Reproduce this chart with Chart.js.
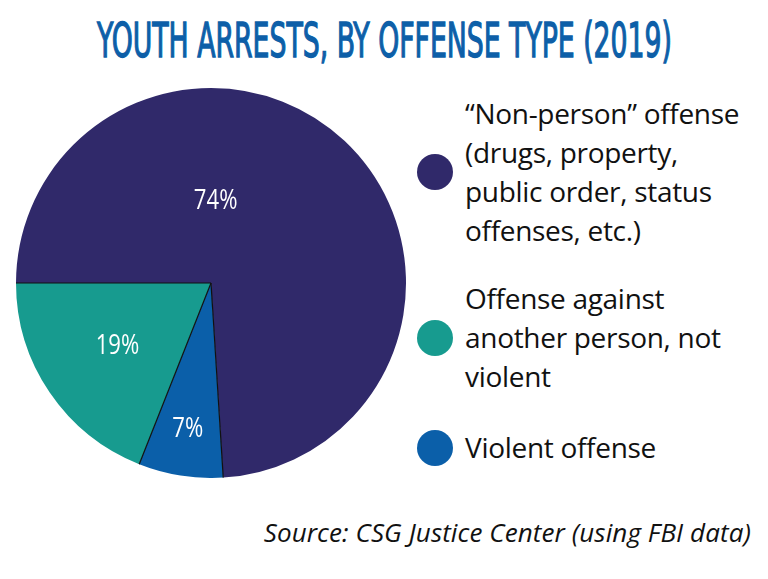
<!DOCTYPE html>
<html>
<head>
<meta charset="utf-8">
<script src="https://cdn.jsdelivr.net/npm/chart.js@4"></script>
<style>
    body { margin: 0; background: #fff; width: 768px; height: 579px; position: relative; overflow: hidden; }
    #title {
        position: absolute; left: 0; top: 12px; white-space: nowrap;
        font-family: "DejaVu Sans Condensed", "DejaVu Sans"; font-size: 48px; color: #0d5fa8;
        -webkit-text-stroke: 1.3px #0d5fa8;
        transform-origin: 0 0;
    }
    #pieBox { position: absolute; left: 16px; top: 88px; width: 390px; height: 390px; }
    .legend { position: absolute; left: 465px; font-family: "Open Sans"; font-size: 28px; letter-spacing: -0.3px; line-height: 39px; color: #111; white-space: nowrap; }
    .dot { position: absolute; left: 417px; width: 36px; height: 36px; border-radius: 50%; }
    #source { position: absolute; right: 17px; top: 514px; font-family: "Open Sans"; font-style: italic; font-size: 26px; letter-spacing: 0.1px; color: #111; }
</style>
</head>
<body>
<div id="title"></div>
<div id="pieBox"><canvas id="pie"></canvas></div>
<div id="legendArea"></div>
<div id="source">Source: CSG Justice Center (using FBI data)</div>

<script>
// Data
const categories = [
    ['“Non-person” offense', '(drugs, property,', 'public order, status', 'offenses, etc.)'],
    ['Violent offense'],
    ['Offense against', 'another person, not', 'violent']
];
const shares = [74, 7, 19];
const sliceColors = ['#30296a', '#0b5fa9', '#179b8f'];
// where each % label sits inside its slice: [fraction of the slice angle, fraction of radius]
const labelAt = [[0.35, 0.42], [0.5, 0.76], [0.5, 0.58]];
// legend order as shown, and top of each text block
const legendOrder = [0, 2, 1];
const legendTops = [94, 279, 428];

// Title, squeezed to the reference width
const title = document.getElementById('title');
title.textContent = 'YOUTH ARRESTS, BY OFFENSE TYPE (2019)';
const tw = title.getBoundingClientRect().width;
title.style.transform = 'scaleX(' + (575 / tw) + ')';
title.style.left = '97px';

// Legend
const legendArea = document.getElementById('legendArea');
legendOrder.forEach((idx, k) => {
    const block = document.createElement('div');
    block.className = 'legend';
    block.style.top = legendTops[k] + 'px';
    block.innerHTML = categories[idx].join('<br>');
    legendArea.appendChild(block);
    const lines = categories[idx].length;
    const dot = document.createElement('div');
    dot.className = 'dot';
    dot.style.background = sliceColors[idx];
    dot.style.top = (legendTops[k] + lines * 39 / 2 - 18) + 'px';
    legendArea.appendChild(dot);
});

// Separator lines and % labels drawn from the arc elements
const pieExtras = {
    id: 'pieExtras',
    afterDatasetsDraw(chart) {
        const ctx = chart.ctx;
        const arcs = chart.getDatasetMeta(0).data;
        ctx.save();
        ctx.strokeStyle = '#111';
        ctx.lineWidth = 1.2;
        arcs.forEach(arc => {
            const p = arc.getProps(['x', 'y', 'startAngle', 'outerRadius']);
            ctx.beginPath();
            ctx.moveTo(p.x, p.y);
            ctx.lineTo(p.x + Math.cos(p.startAngle) * p.outerRadius, p.y + Math.sin(p.startAngle) * p.outerRadius);
            ctx.stroke();
        });
        ctx.fillStyle = '#fff';
        ctx.font = '27px "Open Sans"';
        ctx.textAlign = 'center';
        ctx.textBaseline = 'middle';
        arcs.forEach((arc, i) => {
            const p = arc.getProps(['x', 'y', 'startAngle', 'endAngle', 'outerRadius']);
            const a = p.startAngle + (p.endAngle - p.startAngle) * labelAt[i][0];
            const r = p.outerRadius * labelAt[i][1];
            ctx.save();
            ctx.translate(p.x + Math.cos(a) * r, p.y + Math.sin(a) * r);
            ctx.scale(0.82, 1);
            ctx.fillText(shares[i] + '%', 0, 0);
            ctx.restore();
        });
        ctx.restore();
    }
};

new Chart(document.getElementById('pie'), {
    type: 'pie',
    data: {
        labels: categories.map(c => c.join(' ')),
        datasets: [{
            data: shares,
            backgroundColor: sliceColors,
            borderWidth: 0
        }]
    },
    options: {
        responsive: true,
        maintainAspectRatio: false,
        animation: false,
        rotation: -90,
        layout: { padding: 0 },
        plugins: {
            legend: { display: false },
            tooltip: { enabled: false }
        }
    },
    plugins: [pieExtras]
});
</script>
</body>
</html>
